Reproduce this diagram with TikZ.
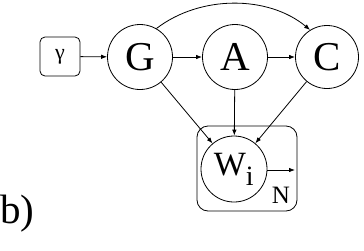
\documentclass[tikz,border=0pt]{standalone}
\usepackage{fontspec}
\setmainfont{Liberation Serif}
\usetikzlibrary{arrows.meta}
\begin{document}
\begin{tikzpicture}[x=1pt,y=-1pt,
  var/.style={circle,draw,line width=0.8pt,inner sep=0pt,minimum size=65pt,font=\fontsize{41}{41}\selectfont},
  param/.style={draw,rounded corners=5pt,line width=0.8pt,minimum width=40pt,minimum height=39pt,inner sep=0pt,font=\fontsize{22}{22}\selectfont},
  plate/.style={draw,rounded corners=11pt,line width=0.8pt,minimum width=100pt,minimum height=85pt,inner sep=0pt},
  edge/.style={line width=0.8pt,-{Latex[length=6pt,width=4.5pt]}}]
\useasboundingbox (0,0) rectangle (364,250);
\node[plate] (P) at (247,168.5) {};
\node[param] (g) at (60,56.5) {γ};
\node[var] (G) at (140,57) {G};
\node[var] (A) at (235,57) {A};
\node[var,minimum size=63pt] (C) at (327,57) {C};
\node[var,minimum size=66pt,font=\fontsize{34}{34}\selectfont] (W) at (234,169) {W\textsubscript{\fontsize{28}{28}\selectfont i}};
\coordinate (Wout) at (295,170);
\node[font=\fontsize{25}{25}\selectfont,inner sep=0pt] (N) at (281,195) {N};
\node[font=\fontsize{41}{41}\selectfont,inner sep=0pt,anchor=west] (lab) at (0,214) {b)};
\draw[edge] (g) -- (G);
\draw[edge] (G) -- (A);
\draw[edge] (A) -- (C);
\draw[edge] (G.60) .. controls (200,-5) and (268,-5) .. (C.122);
\draw[edge] (G) -- (W);
\draw[edge] (A) -- (W);
\draw[edge] (C) -- (W);
\draw[edge] (W.east |- Wout) -- (Wout);
\end{tikzpicture}
\end{document}
